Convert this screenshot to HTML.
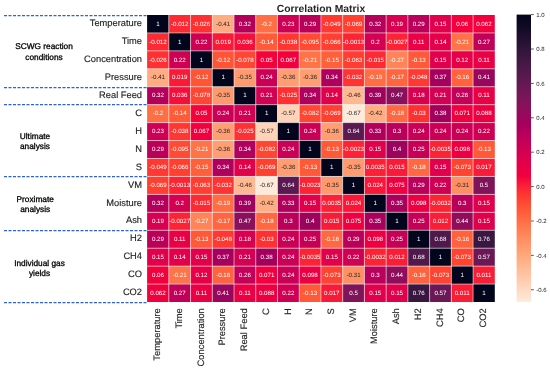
<!DOCTYPE html><html><head><meta charset="utf-8"><style>html,body{margin:0;padding:0;background:#fff;width:550px;height:369px;overflow:hidden;position:relative}svg text{font-family:"Liberation Sans",sans-serif}</style></head><body><svg width="550" height="369" viewBox="0 0 550 369" text-rendering="geometricPrecision" style="position:absolute;left:0;top:0;will-change:transform;filter:blur(0.35px)">
<rect x="147.10" y="15.00" width="21.73" height="17.94" fill="#02051b"/>
<rect x="168.83" y="15.00" width="21.73" height="17.94" fill="#fe2a33"/>
<rect x="190.56" y="15.00" width="21.73" height="17.94" fill="#ff3032"/>
<rect x="212.29" y="15.00" width="21.73" height="17.94" fill="#ffac82"/>
<rect x="234.03" y="15.00" width="21.73" height="17.94" fill="#b4005b"/>
<rect x="255.76" y="15.00" width="21.73" height="17.94" fill="#ff6f46"/>
<rect x="277.49" y="15.00" width="21.73" height="17.94" fill="#cd0055"/>
<rect x="299.22" y="15.00" width="21.73" height="17.94" fill="#bb005a"/>
<rect x="320.95" y="15.00" width="21.73" height="17.94" fill="#ff3831"/>
<rect x="342.68" y="15.00" width="21.73" height="17.94" fill="#ff4031"/>
<rect x="364.41" y="15.00" width="21.73" height="17.94" fill="#b4005b"/>
<rect x="386.14" y="15.00" width="21.73" height="17.94" fill="#d80050"/>
<rect x="407.88" y="15.00" width="21.73" height="17.94" fill="#bb005a"/>
<rect x="429.61" y="15.00" width="21.73" height="17.94" fill="#e1004b"/>
<rect x="451.34" y="15.00" width="21.73" height="17.94" fill="#f3003d"/>
<rect x="473.07" y="15.00" width="21.73" height="17.94" fill="#f2003e"/>
<rect x="147.10" y="32.94" width="21.73" height="17.94" fill="#fe2a33"/>
<rect x="168.83" y="32.94" width="21.73" height="17.94" fill="#02051b"/>
<rect x="190.56" y="32.94" width="21.73" height="17.94" fill="#cf0054"/>
<rect x="212.29" y="32.94" width="21.73" height="17.94" fill="#f91a37"/>
<rect x="234.03" y="32.94" width="21.73" height="17.94" fill="#f70d3a"/>
<rect x="255.76" y="32.94" width="21.73" height="17.94" fill="#ff5b39"/>
<rect x="277.49" y="32.94" width="21.73" height="17.94" fill="#ff3631"/>
<rect x="299.22" y="32.94" width="21.73" height="17.94" fill="#ff4b33"/>
<rect x="320.95" y="32.94" width="21.73" height="17.94" fill="#ff4031"/>
<rect x="342.68" y="32.94" width="21.73" height="17.94" fill="#fc2434"/>
<rect x="364.41" y="32.94" width="21.73" height="17.94" fill="#d40052"/>
<rect x="386.14" y="32.94" width="21.73" height="17.94" fill="#fc2434"/>
<rect x="407.88" y="32.94" width="21.73" height="17.94" fill="#e90045"/>
<rect x="429.61" y="32.94" width="21.73" height="17.94" fill="#e2004a"/>
<rect x="451.34" y="32.94" width="21.73" height="17.94" fill="#ff7349"/>
<rect x="473.07" y="32.94" width="21.73" height="17.94" fill="#c10059"/>
<rect x="147.10" y="50.88" width="21.73" height="17.94" fill="#ff3032"/>
<rect x="168.83" y="50.88" width="21.73" height="17.94" fill="#cf0054"/>
<rect x="190.56" y="50.88" width="21.73" height="17.94" fill="#02051b"/>
<rect x="212.29" y="50.88" width="21.73" height="17.94" fill="#ff5436"/>
<rect x="234.03" y="50.88" width="21.73" height="17.94" fill="#ff4632"/>
<rect x="255.76" y="50.88" width="21.73" height="17.94" fill="#f4023c"/>
<rect x="277.49" y="50.88" width="21.73" height="17.94" fill="#f2003e"/>
<rect x="299.22" y="50.88" width="21.73" height="17.94" fill="#ff7349"/>
<rect x="320.95" y="50.88" width="21.73" height="17.94" fill="#ff603c"/>
<rect x="342.68" y="50.88" width="21.73" height="17.94" fill="#ff3e31"/>
<rect x="364.41" y="50.88" width="21.73" height="17.94" fill="#fe2a33"/>
<rect x="386.14" y="50.88" width="21.73" height="17.94" fill="#ff8458"/>
<rect x="407.88" y="50.88" width="21.73" height="17.94" fill="#ff5938"/>
<rect x="429.61" y="50.88" width="21.73" height="17.94" fill="#e1004b"/>
<rect x="451.34" y="50.88" width="21.73" height="17.94" fill="#e70047"/>
<rect x="473.07" y="50.88" width="21.73" height="17.94" fill="#e90045"/>
<rect x="147.10" y="68.81" width="21.73" height="17.94" fill="#ffac82"/>
<rect x="168.83" y="68.81" width="21.73" height="17.94" fill="#f91a37"/>
<rect x="190.56" y="68.81" width="21.73" height="17.94" fill="#ff5436"/>
<rect x="212.29" y="68.81" width="21.73" height="17.94" fill="#02051b"/>
<rect x="234.03" y="68.81" width="21.73" height="17.94" fill="#ff9a6e"/>
<rect x="255.76" y="68.81" width="21.73" height="17.94" fill="#ca0056"/>
<rect x="277.49" y="68.81" width="21.73" height="17.94" fill="#ff9e72"/>
<rect x="299.22" y="68.81" width="21.73" height="17.94" fill="#ff9e72"/>
<rect x="320.95" y="68.81" width="21.73" height="17.94" fill="#ae005c"/>
<rect x="342.68" y="68.81" width="21.73" height="17.94" fill="#ff3331"/>
<rect x="364.41" y="68.81" width="21.73" height="17.94" fill="#ff6d44"/>
<rect x="386.14" y="68.81" width="21.73" height="17.94" fill="#ff6640"/>
<rect x="407.88" y="68.81" width="21.73" height="17.94" fill="#ff3831"/>
<rect x="429.61" y="68.81" width="21.73" height="17.94" fill="#a5005d"/>
<rect x="451.34" y="68.81" width="21.73" height="17.94" fill="#ff623d"/>
<rect x="473.07" y="68.81" width="21.73" height="17.94" fill="#99065d"/>
<rect x="147.10" y="86.75" width="21.73" height="17.94" fill="#b4005b"/>
<rect x="168.83" y="86.75" width="21.73" height="17.94" fill="#f70d3a"/>
<rect x="190.56" y="86.75" width="21.73" height="17.94" fill="#ff4632"/>
<rect x="212.29" y="86.75" width="21.73" height="17.94" fill="#ff9a6e"/>
<rect x="234.03" y="86.75" width="21.73" height="17.94" fill="#02051b"/>
<rect x="255.76" y="86.75" width="21.73" height="17.94" fill="#d30053"/>
<rect x="277.49" y="86.75" width="21.73" height="17.94" fill="#ff3032"/>
<rect x="299.22" y="86.75" width="21.73" height="17.94" fill="#ae005c"/>
<rect x="320.95" y="86.75" width="21.73" height="17.94" fill="#e2004a"/>
<rect x="342.68" y="86.75" width="21.73" height="17.94" fill="#ffb891"/>
<rect x="364.41" y="86.75" width="21.73" height="17.94" fill="#9f015d"/>
<rect x="386.14" y="86.75" width="21.73" height="17.94" fill="#89105c"/>
<rect x="407.88" y="86.75" width="21.73" height="17.94" fill="#d9004f"/>
<rect x="429.61" y="86.75" width="21.73" height="17.94" fill="#d30053"/>
<rect x="451.34" y="86.75" width="21.73" height="17.94" fill="#c40058"/>
<rect x="473.07" y="86.75" width="21.73" height="17.94" fill="#e90045"/>
<rect x="147.10" y="104.69" width="21.73" height="17.94" fill="#ff6f46"/>
<rect x="168.83" y="104.69" width="21.73" height="17.94" fill="#ff5b39"/>
<rect x="190.56" y="104.69" width="21.73" height="17.94" fill="#f4023c"/>
<rect x="212.29" y="104.69" width="21.73" height="17.94" fill="#ca0056"/>
<rect x="234.03" y="104.69" width="21.73" height="17.94" fill="#d30053"/>
<rect x="255.76" y="104.69" width="21.73" height="17.94" fill="#02051b"/>
<rect x="277.49" y="104.69" width="21.73" height="17.94" fill="#ffd3b8"/>
<rect x="299.22" y="104.69" width="21.73" height="17.94" fill="#ff4632"/>
<rect x="320.95" y="104.69" width="21.73" height="17.94" fill="#ff4031"/>
<rect x="342.68" y="104.69" width="21.73" height="17.94" fill="#feeadb"/>
<rect x="364.41" y="104.69" width="21.73" height="17.94" fill="#ffae84"/>
<rect x="386.14" y="104.69" width="21.73" height="17.94" fill="#ff6841"/>
<rect x="407.88" y="104.69" width="21.73" height="17.94" fill="#ff3032"/>
<rect x="429.61" y="104.69" width="21.73" height="17.94" fill="#a3005d"/>
<rect x="451.34" y="104.69" width="21.73" height="17.94" fill="#f1003f"/>
<rect x="473.07" y="104.69" width="21.73" height="17.94" fill="#ed0042"/>
<rect x="147.10" y="122.62" width="21.73" height="17.94" fill="#cd0055"/>
<rect x="168.83" y="122.62" width="21.73" height="17.94" fill="#ff3631"/>
<rect x="190.56" y="122.62" width="21.73" height="17.94" fill="#f2003e"/>
<rect x="212.29" y="122.62" width="21.73" height="17.94" fill="#ff9e72"/>
<rect x="234.03" y="122.62" width="21.73" height="17.94" fill="#ff3032"/>
<rect x="255.76" y="122.62" width="21.73" height="17.94" fill="#ffd3b8"/>
<rect x="277.49" y="122.62" width="21.73" height="17.94" fill="#02051b"/>
<rect x="299.22" y="122.62" width="21.73" height="17.94" fill="#ca0056"/>
<rect x="320.95" y="122.62" width="21.73" height="17.94" fill="#ff9e72"/>
<rect x="342.68" y="122.62" width="21.73" height="17.94" fill="#5a1950"/>
<rect x="364.41" y="122.62" width="21.73" height="17.94" fill="#b0005c"/>
<rect x="386.14" y="122.62" width="21.73" height="17.94" fill="#b9005b"/>
<rect x="407.88" y="122.62" width="21.73" height="17.94" fill="#ca0056"/>
<rect x="429.61" y="122.62" width="21.73" height="17.94" fill="#ca0056"/>
<rect x="451.34" y="122.62" width="21.73" height="17.94" fill="#ca0056"/>
<rect x="473.07" y="122.62" width="21.73" height="17.94" fill="#cf0054"/>
<rect x="147.10" y="140.56" width="21.73" height="17.94" fill="#bb005a"/>
<rect x="168.83" y="140.56" width="21.73" height="17.94" fill="#ff4b33"/>
<rect x="190.56" y="140.56" width="21.73" height="17.94" fill="#ff7349"/>
<rect x="212.29" y="140.56" width="21.73" height="17.94" fill="#ff9e72"/>
<rect x="234.03" y="140.56" width="21.73" height="17.94" fill="#ae005c"/>
<rect x="255.76" y="140.56" width="21.73" height="17.94" fill="#ff4632"/>
<rect x="277.49" y="140.56" width="21.73" height="17.94" fill="#ca0056"/>
<rect x="299.22" y="140.56" width="21.73" height="17.94" fill="#02051b"/>
<rect x="320.95" y="140.56" width="21.73" height="17.94" fill="#ff5938"/>
<rect x="342.68" y="140.56" width="21.73" height="17.94" fill="#fc2434"/>
<rect x="364.41" y="140.56" width="21.73" height="17.94" fill="#e1004b"/>
<rect x="386.14" y="140.56" width="21.73" height="17.94" fill="#9b045d"/>
<rect x="407.88" y="140.56" width="21.73" height="17.94" fill="#c60057"/>
<rect x="429.61" y="140.56" width="21.73" height="17.94" fill="#fc2434"/>
<rect x="451.34" y="140.56" width="21.73" height="17.94" fill="#ec0043"/>
<rect x="473.07" y="140.56" width="21.73" height="17.94" fill="#ff5938"/>
<rect x="147.10" y="158.50" width="21.73" height="17.94" fill="#ff3831"/>
<rect x="168.83" y="158.50" width="21.73" height="17.94" fill="#ff4031"/>
<rect x="190.56" y="158.50" width="21.73" height="17.94" fill="#ff603c"/>
<rect x="212.29" y="158.50" width="21.73" height="17.94" fill="#ae005c"/>
<rect x="234.03" y="158.50" width="21.73" height="17.94" fill="#e2004a"/>
<rect x="255.76" y="158.50" width="21.73" height="17.94" fill="#ff4031"/>
<rect x="277.49" y="158.50" width="21.73" height="17.94" fill="#ff9e72"/>
<rect x="299.22" y="158.50" width="21.73" height="17.94" fill="#ff5938"/>
<rect x="320.95" y="158.50" width="21.73" height="17.94" fill="#02051b"/>
<rect x="342.68" y="158.50" width="21.73" height="17.94" fill="#ff9a6e"/>
<rect x="364.41" y="158.50" width="21.73" height="17.94" fill="#fb2035"/>
<rect x="386.14" y="158.50" width="21.73" height="17.94" fill="#f91a37"/>
<rect x="407.88" y="158.50" width="21.73" height="17.94" fill="#ff6841"/>
<rect x="429.61" y="158.50" width="21.73" height="17.94" fill="#e1004b"/>
<rect x="451.34" y="158.50" width="21.73" height="17.94" fill="#ff4331"/>
<rect x="473.07" y="158.50" width="21.73" height="17.94" fill="#f91a37"/>
<rect x="147.10" y="176.44" width="21.73" height="17.94" fill="#ff4031"/>
<rect x="168.83" y="176.44" width="21.73" height="17.94" fill="#fc2434"/>
<rect x="190.56" y="176.44" width="21.73" height="17.94" fill="#ff3e31"/>
<rect x="212.29" y="176.44" width="21.73" height="17.94" fill="#ff3331"/>
<rect x="234.03" y="176.44" width="21.73" height="17.94" fill="#ffb891"/>
<rect x="255.76" y="176.44" width="21.73" height="17.94" fill="#feeadb"/>
<rect x="277.49" y="176.44" width="21.73" height="17.94" fill="#5a1950"/>
<rect x="299.22" y="176.44" width="21.73" height="17.94" fill="#fc2434"/>
<rect x="320.95" y="176.44" width="21.73" height="17.94" fill="#ff9a6e"/>
<rect x="342.68" y="176.44" width="21.73" height="17.94" fill="#02051b"/>
<rect x="364.41" y="176.44" width="21.73" height="17.94" fill="#f91638"/>
<rect x="386.14" y="176.44" width="21.73" height="17.94" fill="#f00040"/>
<rect x="407.88" y="176.44" width="21.73" height="17.94" fill="#bb005a"/>
<rect x="429.61" y="176.44" width="21.73" height="17.94" fill="#cf0054"/>
<rect x="451.34" y="176.44" width="21.73" height="17.94" fill="#ff9063"/>
<rect x="473.07" y="176.44" width="21.73" height="17.94" fill="#80145a"/>
<rect x="147.10" y="194.38" width="21.73" height="17.94" fill="#b4005b"/>
<rect x="168.83" y="194.38" width="21.73" height="17.94" fill="#d40052"/>
<rect x="190.56" y="194.38" width="21.73" height="17.94" fill="#fe2a33"/>
<rect x="212.29" y="194.38" width="21.73" height="17.94" fill="#ff6d44"/>
<rect x="234.03" y="194.38" width="21.73" height="17.94" fill="#9f015d"/>
<rect x="255.76" y="194.38" width="21.73" height="17.94" fill="#ffae84"/>
<rect x="277.49" y="194.38" width="21.73" height="17.94" fill="#b0005c"/>
<rect x="299.22" y="194.38" width="21.73" height="17.94" fill="#e1004b"/>
<rect x="320.95" y="194.38" width="21.73" height="17.94" fill="#fb2035"/>
<rect x="342.68" y="194.38" width="21.73" height="17.94" fill="#f91638"/>
<rect x="364.41" y="194.38" width="21.73" height="17.94" fill="#02051b"/>
<rect x="386.14" y="194.38" width="21.73" height="17.94" fill="#aa005d"/>
<rect x="407.88" y="194.38" width="21.73" height="17.94" fill="#ec0043"/>
<rect x="429.61" y="194.38" width="21.73" height="17.94" fill="#fc2434"/>
<rect x="451.34" y="194.38" width="21.73" height="17.94" fill="#b9005b"/>
<rect x="473.07" y="194.38" width="21.73" height="17.94" fill="#e1004b"/>
<rect x="147.10" y="212.31" width="21.73" height="17.94" fill="#d80050"/>
<rect x="168.83" y="212.31" width="21.73" height="17.94" fill="#fc2434"/>
<rect x="190.56" y="212.31" width="21.73" height="17.94" fill="#ff8458"/>
<rect x="212.29" y="212.31" width="21.73" height="17.94" fill="#ff6640"/>
<rect x="234.03" y="212.31" width="21.73" height="17.94" fill="#89105c"/>
<rect x="255.76" y="212.31" width="21.73" height="17.94" fill="#ff6841"/>
<rect x="277.49" y="212.31" width="21.73" height="17.94" fill="#b9005b"/>
<rect x="299.22" y="212.31" width="21.73" height="17.94" fill="#9b045d"/>
<rect x="320.95" y="212.31" width="21.73" height="17.94" fill="#f91a37"/>
<rect x="342.68" y="212.31" width="21.73" height="17.94" fill="#f00040"/>
<rect x="364.41" y="212.31" width="21.73" height="17.94" fill="#aa005d"/>
<rect x="386.14" y="212.31" width="21.73" height="17.94" fill="#02051b"/>
<rect x="407.88" y="212.31" width="21.73" height="17.94" fill="#c60057"/>
<rect x="429.61" y="212.31" width="21.73" height="17.94" fill="#fa1d36"/>
<rect x="451.34" y="212.31" width="21.73" height="17.94" fill="#900d5c"/>
<rect x="473.07" y="212.31" width="21.73" height="17.94" fill="#e1004b"/>
<rect x="147.10" y="230.25" width="21.73" height="17.94" fill="#bb005a"/>
<rect x="168.83" y="230.25" width="21.73" height="17.94" fill="#e90045"/>
<rect x="190.56" y="230.25" width="21.73" height="17.94" fill="#ff5938"/>
<rect x="212.29" y="230.25" width="21.73" height="17.94" fill="#ff3831"/>
<rect x="234.03" y="230.25" width="21.73" height="17.94" fill="#d9004f"/>
<rect x="255.76" y="230.25" width="21.73" height="17.94" fill="#ff3032"/>
<rect x="277.49" y="230.25" width="21.73" height="17.94" fill="#ca0056"/>
<rect x="299.22" y="230.25" width="21.73" height="17.94" fill="#c60057"/>
<rect x="320.95" y="230.25" width="21.73" height="17.94" fill="#ff6841"/>
<rect x="342.68" y="230.25" width="21.73" height="17.94" fill="#bb005a"/>
<rect x="364.41" y="230.25" width="21.73" height="17.94" fill="#ec0043"/>
<rect x="386.14" y="230.25" width="21.73" height="17.94" fill="#c60057"/>
<rect x="407.88" y="230.25" width="21.73" height="17.94" fill="#02051b"/>
<rect x="429.61" y="230.25" width="21.73" height="17.94" fill="#50194b"/>
<rect x="451.34" y="230.25" width="21.73" height="17.94" fill="#ff623d"/>
<rect x="473.07" y="230.25" width="21.73" height="17.94" fill="#3a1740"/>
<rect x="147.10" y="248.19" width="21.73" height="17.94" fill="#e1004b"/>
<rect x="168.83" y="248.19" width="21.73" height="17.94" fill="#e2004a"/>
<rect x="190.56" y="248.19" width="21.73" height="17.94" fill="#e1004b"/>
<rect x="212.29" y="248.19" width="21.73" height="17.94" fill="#a5005d"/>
<rect x="234.03" y="248.19" width="21.73" height="17.94" fill="#d30053"/>
<rect x="255.76" y="248.19" width="21.73" height="17.94" fill="#a3005d"/>
<rect x="277.49" y="248.19" width="21.73" height="17.94" fill="#ca0056"/>
<rect x="299.22" y="248.19" width="21.73" height="17.94" fill="#fc2434"/>
<rect x="320.95" y="248.19" width="21.73" height="17.94" fill="#e1004b"/>
<rect x="342.68" y="248.19" width="21.73" height="17.94" fill="#cf0054"/>
<rect x="364.41" y="248.19" width="21.73" height="17.94" fill="#fc2434"/>
<rect x="386.14" y="248.19" width="21.73" height="17.94" fill="#fa1d36"/>
<rect x="407.88" y="248.19" width="21.73" height="17.94" fill="#50194b"/>
<rect x="429.61" y="248.19" width="21.73" height="17.94" fill="#02051b"/>
<rect x="451.34" y="248.19" width="21.73" height="17.94" fill="#ff4331"/>
<rect x="473.07" y="248.19" width="21.73" height="17.94" fill="#6c1856"/>
<rect x="147.10" y="266.12" width="21.73" height="17.94" fill="#f3003d"/>
<rect x="168.83" y="266.12" width="21.73" height="17.94" fill="#ff7349"/>
<rect x="190.56" y="266.12" width="21.73" height="17.94" fill="#e70047"/>
<rect x="212.29" y="266.12" width="21.73" height="17.94" fill="#ff623d"/>
<rect x="234.03" y="266.12" width="21.73" height="17.94" fill="#c40058"/>
<rect x="255.76" y="266.12" width="21.73" height="17.94" fill="#f1003f"/>
<rect x="277.49" y="266.12" width="21.73" height="17.94" fill="#ca0056"/>
<rect x="299.22" y="266.12" width="21.73" height="17.94" fill="#ec0043"/>
<rect x="320.95" y="266.12" width="21.73" height="17.94" fill="#ff4331"/>
<rect x="342.68" y="266.12" width="21.73" height="17.94" fill="#ff9063"/>
<rect x="364.41" y="266.12" width="21.73" height="17.94" fill="#b9005b"/>
<rect x="386.14" y="266.12" width="21.73" height="17.94" fill="#900d5c"/>
<rect x="407.88" y="266.12" width="21.73" height="17.94" fill="#ff623d"/>
<rect x="429.61" y="266.12" width="21.73" height="17.94" fill="#ff4331"/>
<rect x="451.34" y="266.12" width="21.73" height="17.94" fill="#02051b"/>
<rect x="473.07" y="266.12" width="21.73" height="17.94" fill="#fa1d36"/>
<rect x="147.10" y="284.06" width="21.73" height="17.94" fill="#f2003e"/>
<rect x="168.83" y="284.06" width="21.73" height="17.94" fill="#c10059"/>
<rect x="190.56" y="284.06" width="21.73" height="17.94" fill="#e90045"/>
<rect x="212.29" y="284.06" width="21.73" height="17.94" fill="#99065d"/>
<rect x="234.03" y="284.06" width="21.73" height="17.94" fill="#e90045"/>
<rect x="255.76" y="284.06" width="21.73" height="17.94" fill="#ed0042"/>
<rect x="277.49" y="284.06" width="21.73" height="17.94" fill="#cf0054"/>
<rect x="299.22" y="284.06" width="21.73" height="17.94" fill="#ff5938"/>
<rect x="320.95" y="284.06" width="21.73" height="17.94" fill="#f91a37"/>
<rect x="342.68" y="284.06" width="21.73" height="17.94" fill="#80145a"/>
<rect x="364.41" y="284.06" width="21.73" height="17.94" fill="#e1004b"/>
<rect x="386.14" y="284.06" width="21.73" height="17.94" fill="#e1004b"/>
<rect x="407.88" y="284.06" width="21.73" height="17.94" fill="#3a1740"/>
<rect x="429.61" y="284.06" width="21.73" height="17.94" fill="#6c1856"/>
<rect x="451.34" y="284.06" width="21.73" height="17.94" fill="#fa1d36"/>
<rect x="473.07" y="284.06" width="21.73" height="17.94" fill="#02051b"/>
<line x1="168.83" y1="15.0" x2="168.83" y2="302.0" stroke="#fff" stroke-opacity="0.6" stroke-width="0.9"/>
<line x1="190.56" y1="15.0" x2="190.56" y2="302.0" stroke="#fff" stroke-opacity="0.6" stroke-width="0.9"/>
<line x1="212.29" y1="15.0" x2="212.29" y2="302.0" stroke="#fff" stroke-opacity="0.6" stroke-width="0.9"/>
<line x1="234.03" y1="15.0" x2="234.03" y2="302.0" stroke="#fff" stroke-opacity="0.6" stroke-width="0.9"/>
<line x1="255.76" y1="15.0" x2="255.76" y2="302.0" stroke="#fff" stroke-opacity="0.6" stroke-width="0.9"/>
<line x1="277.49" y1="15.0" x2="277.49" y2="302.0" stroke="#fff" stroke-opacity="0.6" stroke-width="0.9"/>
<line x1="299.22" y1="15.0" x2="299.22" y2="302.0" stroke="#fff" stroke-opacity="0.6" stroke-width="0.9"/>
<line x1="320.95" y1="15.0" x2="320.95" y2="302.0" stroke="#fff" stroke-opacity="0.6" stroke-width="0.9"/>
<line x1="342.68" y1="15.0" x2="342.68" y2="302.0" stroke="#fff" stroke-opacity="0.6" stroke-width="0.9"/>
<line x1="364.41" y1="15.0" x2="364.41" y2="302.0" stroke="#fff" stroke-opacity="0.6" stroke-width="0.9"/>
<line x1="386.14" y1="15.0" x2="386.14" y2="302.0" stroke="#fff" stroke-opacity="0.6" stroke-width="0.9"/>
<line x1="407.88" y1="15.0" x2="407.88" y2="302.0" stroke="#fff" stroke-opacity="0.6" stroke-width="0.9"/>
<line x1="429.61" y1="15.0" x2="429.61" y2="302.0" stroke="#fff" stroke-opacity="0.6" stroke-width="0.9"/>
<line x1="451.34" y1="15.0" x2="451.34" y2="302.0" stroke="#fff" stroke-opacity="0.6" stroke-width="0.9"/>
<line x1="473.07" y1="15.0" x2="473.07" y2="302.0" stroke="#fff" stroke-opacity="0.6" stroke-width="0.9"/>
<line x1="147.1" y1="32.94" x2="494.8" y2="32.94" stroke="#fff" stroke-opacity="0.6" stroke-width="0.9"/>
<line x1="147.1" y1="50.88" x2="494.8" y2="50.88" stroke="#fff" stroke-opacity="0.6" stroke-width="0.9"/>
<line x1="147.1" y1="68.81" x2="494.8" y2="68.81" stroke="#fff" stroke-opacity="0.6" stroke-width="0.9"/>
<line x1="147.1" y1="86.75" x2="494.8" y2="86.75" stroke="#fff" stroke-opacity="0.6" stroke-width="0.9"/>
<line x1="147.1" y1="104.69" x2="494.8" y2="104.69" stroke="#fff" stroke-opacity="0.6" stroke-width="0.9"/>
<line x1="147.1" y1="122.62" x2="494.8" y2="122.62" stroke="#fff" stroke-opacity="0.6" stroke-width="0.9"/>
<line x1="147.1" y1="140.56" x2="494.8" y2="140.56" stroke="#fff" stroke-opacity="0.6" stroke-width="0.9"/>
<line x1="147.1" y1="158.50" x2="494.8" y2="158.50" stroke="#fff" stroke-opacity="0.6" stroke-width="0.9"/>
<line x1="147.1" y1="176.44" x2="494.8" y2="176.44" stroke="#fff" stroke-opacity="0.6" stroke-width="0.9"/>
<line x1="147.1" y1="194.38" x2="494.8" y2="194.38" stroke="#fff" stroke-opacity="0.6" stroke-width="0.9"/>
<line x1="147.1" y1="212.31" x2="494.8" y2="212.31" stroke="#fff" stroke-opacity="0.6" stroke-width="0.9"/>
<line x1="147.1" y1="230.25" x2="494.8" y2="230.25" stroke="#fff" stroke-opacity="0.6" stroke-width="0.9"/>
<line x1="147.1" y1="248.19" x2="494.8" y2="248.19" stroke="#fff" stroke-opacity="0.6" stroke-width="0.9"/>
<line x1="147.1" y1="266.12" x2="494.8" y2="266.12" stroke="#fff" stroke-opacity="0.6" stroke-width="0.9"/>
<line x1="147.1" y1="284.06" x2="494.8" y2="284.06" stroke="#fff" stroke-opacity="0.6" stroke-width="0.9"/>
<g font-family="Liberation Sans, sans-serif" font-size="6.2" text-anchor="middle">
<text x="157.97" y="25.67" fill="#ffffff">1</text>
<text x="179.70" y="25.67" fill="#ffffff">-0.012</text>
<text x="201.43" y="25.67" fill="#ffffff">-0.026</text>
<text x="223.16" y="25.67" fill="#262626">-0.41</text>
<text x="244.89" y="25.67" fill="#ffffff">0.32</text>
<text x="266.62" y="25.67" fill="#ffffff">-0.2</text>
<text x="288.35" y="25.67" fill="#ffffff">0.23</text>
<text x="310.08" y="25.67" fill="#ffffff">0.29</text>
<text x="331.82" y="25.67" fill="#ffffff">-0.049</text>
<text x="353.55" y="25.67" fill="#ffffff">-0.069</text>
<text x="375.28" y="25.67" fill="#ffffff">0.32</text>
<text x="397.01" y="25.67" fill="#ffffff">0.19</text>
<text x="418.74" y="25.67" fill="#ffffff">0.29</text>
<text x="440.47" y="25.67" fill="#ffffff">0.15</text>
<text x="462.20" y="25.67" fill="#ffffff">0.06</text>
<text x="483.93" y="25.67" fill="#ffffff">0.062</text>
<text x="157.97" y="43.61" fill="#ffffff">-0.012</text>
<text x="179.70" y="43.61" fill="#ffffff">1</text>
<text x="201.43" y="43.61" fill="#ffffff">0.22</text>
<text x="223.16" y="43.61" fill="#ffffff">0.019</text>
<text x="244.89" y="43.61" fill="#ffffff">0.036</text>
<text x="266.62" y="43.61" fill="#ffffff">-0.14</text>
<text x="288.35" y="43.61" fill="#ffffff">-0.038</text>
<text x="310.08" y="43.61" fill="#ffffff">-0.095</text>
<text x="331.82" y="43.61" fill="#ffffff">-0.066</text>
<text x="353.55" y="43.61" fill="#ffffff">-0.0013</text>
<text x="375.28" y="43.61" fill="#ffffff">0.2</text>
<text x="397.01" y="43.61" fill="#ffffff">-0.0027</text>
<text x="418.74" y="43.61" fill="#ffffff">0.11</text>
<text x="440.47" y="43.61" fill="#ffffff">0.14</text>
<text x="462.20" y="43.61" fill="#ffffff">-0.21</text>
<text x="483.93" y="43.61" fill="#ffffff">0.27</text>
<text x="157.97" y="61.54" fill="#ffffff">-0.026</text>
<text x="179.70" y="61.54" fill="#ffffff">0.22</text>
<text x="201.43" y="61.54" fill="#ffffff">1</text>
<text x="223.16" y="61.54" fill="#ffffff">-0.12</text>
<text x="244.89" y="61.54" fill="#ffffff">-0.078</text>
<text x="266.62" y="61.54" fill="#ffffff">0.05</text>
<text x="288.35" y="61.54" fill="#ffffff">0.067</text>
<text x="310.08" y="61.54" fill="#ffffff">-0.21</text>
<text x="331.82" y="61.54" fill="#ffffff">-0.15</text>
<text x="353.55" y="61.54" fill="#ffffff">-0.063</text>
<text x="375.28" y="61.54" fill="#ffffff">-0.015</text>
<text x="397.01" y="61.54" fill="#ffffff">-0.27</text>
<text x="418.74" y="61.54" fill="#ffffff">-0.13</text>
<text x="440.47" y="61.54" fill="#ffffff">0.15</text>
<text x="462.20" y="61.54" fill="#ffffff">0.12</text>
<text x="483.93" y="61.54" fill="#ffffff">0.11</text>
<text x="157.97" y="79.48" fill="#262626">-0.41</text>
<text x="179.70" y="79.48" fill="#ffffff">0.019</text>
<text x="201.43" y="79.48" fill="#ffffff">-0.12</text>
<text x="223.16" y="79.48" fill="#ffffff">1</text>
<text x="244.89" y="79.48" fill="#262626">-0.35</text>
<text x="266.62" y="79.48" fill="#ffffff">0.24</text>
<text x="288.35" y="79.48" fill="#262626">-0.36</text>
<text x="310.08" y="79.48" fill="#262626">-0.36</text>
<text x="331.82" y="79.48" fill="#ffffff">0.34</text>
<text x="353.55" y="79.48" fill="#ffffff">-0.032</text>
<text x="375.28" y="79.48" fill="#ffffff">-0.19</text>
<text x="397.01" y="79.48" fill="#ffffff">-0.17</text>
<text x="418.74" y="79.48" fill="#ffffff">-0.048</text>
<text x="440.47" y="79.48" fill="#ffffff">0.37</text>
<text x="462.20" y="79.48" fill="#ffffff">-0.16</text>
<text x="483.93" y="79.48" fill="#ffffff">0.41</text>
<text x="157.97" y="97.42" fill="#ffffff">0.32</text>
<text x="179.70" y="97.42" fill="#ffffff">0.036</text>
<text x="201.43" y="97.42" fill="#ffffff">-0.078</text>
<text x="223.16" y="97.42" fill="#262626">-0.35</text>
<text x="244.89" y="97.42" fill="#ffffff">1</text>
<text x="266.62" y="97.42" fill="#ffffff">0.21</text>
<text x="288.35" y="97.42" fill="#ffffff">-0.025</text>
<text x="310.08" y="97.42" fill="#ffffff">0.34</text>
<text x="331.82" y="97.42" fill="#ffffff">0.14</text>
<text x="353.55" y="97.42" fill="#262626">-0.46</text>
<text x="375.28" y="97.42" fill="#ffffff">0.39</text>
<text x="397.01" y="97.42" fill="#ffffff">0.47</text>
<text x="418.74" y="97.42" fill="#ffffff">0.18</text>
<text x="440.47" y="97.42" fill="#ffffff">0.21</text>
<text x="462.20" y="97.42" fill="#ffffff">0.26</text>
<text x="483.93" y="97.42" fill="#ffffff">0.11</text>
<text x="157.97" y="115.36" fill="#ffffff">-0.2</text>
<text x="179.70" y="115.36" fill="#ffffff">-0.14</text>
<text x="201.43" y="115.36" fill="#ffffff">0.05</text>
<text x="223.16" y="115.36" fill="#ffffff">0.24</text>
<text x="244.89" y="115.36" fill="#ffffff">0.21</text>
<text x="266.62" y="115.36" fill="#ffffff">1</text>
<text x="288.35" y="115.36" fill="#262626">-0.57</text>
<text x="310.08" y="115.36" fill="#ffffff">-0.082</text>
<text x="331.82" y="115.36" fill="#ffffff">-0.069</text>
<text x="353.55" y="115.36" fill="#262626">-0.67</text>
<text x="375.28" y="115.36" fill="#262626">-0.42</text>
<text x="397.01" y="115.36" fill="#ffffff">-0.18</text>
<text x="418.74" y="115.36" fill="#ffffff">-0.03</text>
<text x="440.47" y="115.36" fill="#ffffff">0.38</text>
<text x="462.20" y="115.36" fill="#ffffff">0.071</text>
<text x="483.93" y="115.36" fill="#ffffff">0.088</text>
<text x="157.97" y="133.29" fill="#ffffff">0.23</text>
<text x="179.70" y="133.29" fill="#ffffff">-0.038</text>
<text x="201.43" y="133.29" fill="#ffffff">0.067</text>
<text x="223.16" y="133.29" fill="#262626">-0.36</text>
<text x="244.89" y="133.29" fill="#ffffff">-0.025</text>
<text x="266.62" y="133.29" fill="#262626">-0.57</text>
<text x="288.35" y="133.29" fill="#ffffff">1</text>
<text x="310.08" y="133.29" fill="#ffffff">0.24</text>
<text x="331.82" y="133.29" fill="#262626">-0.36</text>
<text x="353.55" y="133.29" fill="#ffffff">0.64</text>
<text x="375.28" y="133.29" fill="#ffffff">0.33</text>
<text x="397.01" y="133.29" fill="#ffffff">0.3</text>
<text x="418.74" y="133.29" fill="#ffffff">0.24</text>
<text x="440.47" y="133.29" fill="#ffffff">0.24</text>
<text x="462.20" y="133.29" fill="#ffffff">0.24</text>
<text x="483.93" y="133.29" fill="#ffffff">0.22</text>
<text x="157.97" y="151.23" fill="#ffffff">0.29</text>
<text x="179.70" y="151.23" fill="#ffffff">-0.095</text>
<text x="201.43" y="151.23" fill="#ffffff">-0.21</text>
<text x="223.16" y="151.23" fill="#262626">-0.36</text>
<text x="244.89" y="151.23" fill="#ffffff">0.34</text>
<text x="266.62" y="151.23" fill="#ffffff">-0.082</text>
<text x="288.35" y="151.23" fill="#ffffff">0.24</text>
<text x="310.08" y="151.23" fill="#ffffff">1</text>
<text x="331.82" y="151.23" fill="#ffffff">-0.13</text>
<text x="353.55" y="151.23" fill="#ffffff">-0.0023</text>
<text x="375.28" y="151.23" fill="#ffffff">0.15</text>
<text x="397.01" y="151.23" fill="#ffffff">0.4</text>
<text x="418.74" y="151.23" fill="#ffffff">0.25</text>
<text x="440.47" y="151.23" fill="#ffffff">-0.0035</text>
<text x="462.20" y="151.23" fill="#ffffff">0.098</text>
<text x="483.93" y="151.23" fill="#ffffff">-0.13</text>
<text x="157.97" y="169.17" fill="#ffffff">-0.049</text>
<text x="179.70" y="169.17" fill="#ffffff">-0.066</text>
<text x="201.43" y="169.17" fill="#ffffff">-0.15</text>
<text x="223.16" y="169.17" fill="#ffffff">0.34</text>
<text x="244.89" y="169.17" fill="#ffffff">0.14</text>
<text x="266.62" y="169.17" fill="#ffffff">-0.069</text>
<text x="288.35" y="169.17" fill="#262626">-0.36</text>
<text x="310.08" y="169.17" fill="#ffffff">-0.13</text>
<text x="331.82" y="169.17" fill="#ffffff">1</text>
<text x="353.55" y="169.17" fill="#262626">-0.35</text>
<text x="375.28" y="169.17" fill="#ffffff">0.0035</text>
<text x="397.01" y="169.17" fill="#ffffff">0.015</text>
<text x="418.74" y="169.17" fill="#ffffff">-0.18</text>
<text x="440.47" y="169.17" fill="#ffffff">0.15</text>
<text x="462.20" y="169.17" fill="#ffffff">-0.073</text>
<text x="483.93" y="169.17" fill="#ffffff">0.017</text>
<text x="157.97" y="187.11" fill="#ffffff">-0.069</text>
<text x="179.70" y="187.11" fill="#ffffff">-0.0013</text>
<text x="201.43" y="187.11" fill="#ffffff">-0.063</text>
<text x="223.16" y="187.11" fill="#ffffff">-0.032</text>
<text x="244.89" y="187.11" fill="#262626">-0.46</text>
<text x="266.62" y="187.11" fill="#262626">-0.67</text>
<text x="288.35" y="187.11" fill="#ffffff">0.64</text>
<text x="310.08" y="187.11" fill="#ffffff">-0.0023</text>
<text x="331.82" y="187.11" fill="#262626">-0.35</text>
<text x="353.55" y="187.11" fill="#ffffff">1</text>
<text x="375.28" y="187.11" fill="#ffffff">0.024</text>
<text x="397.01" y="187.11" fill="#ffffff">0.075</text>
<text x="418.74" y="187.11" fill="#ffffff">0.29</text>
<text x="440.47" y="187.11" fill="#ffffff">0.22</text>
<text x="462.20" y="187.11" fill="#262626">-0.31</text>
<text x="483.93" y="187.11" fill="#ffffff">0.5</text>
<text x="157.97" y="205.04" fill="#ffffff">0.32</text>
<text x="179.70" y="205.04" fill="#ffffff">0.2</text>
<text x="201.43" y="205.04" fill="#ffffff">-0.015</text>
<text x="223.16" y="205.04" fill="#ffffff">-0.19</text>
<text x="244.89" y="205.04" fill="#ffffff">0.39</text>
<text x="266.62" y="205.04" fill="#262626">-0.42</text>
<text x="288.35" y="205.04" fill="#ffffff">0.33</text>
<text x="310.08" y="205.04" fill="#ffffff">0.15</text>
<text x="331.82" y="205.04" fill="#ffffff">0.0035</text>
<text x="353.55" y="205.04" fill="#ffffff">0.024</text>
<text x="375.28" y="205.04" fill="#ffffff">1</text>
<text x="397.01" y="205.04" fill="#ffffff">0.35</text>
<text x="418.74" y="205.04" fill="#ffffff">0.098</text>
<text x="440.47" y="205.04" fill="#ffffff">-0.0032</text>
<text x="462.20" y="205.04" fill="#ffffff">0.3</text>
<text x="483.93" y="205.04" fill="#ffffff">0.15</text>
<text x="157.97" y="222.98" fill="#ffffff">0.19</text>
<text x="179.70" y="222.98" fill="#ffffff">-0.0027</text>
<text x="201.43" y="222.98" fill="#ffffff">-0.27</text>
<text x="223.16" y="222.98" fill="#ffffff">-0.17</text>
<text x="244.89" y="222.98" fill="#ffffff">0.47</text>
<text x="266.62" y="222.98" fill="#ffffff">-0.18</text>
<text x="288.35" y="222.98" fill="#ffffff">0.3</text>
<text x="310.08" y="222.98" fill="#ffffff">0.4</text>
<text x="331.82" y="222.98" fill="#ffffff">0.015</text>
<text x="353.55" y="222.98" fill="#ffffff">0.075</text>
<text x="375.28" y="222.98" fill="#ffffff">0.35</text>
<text x="397.01" y="222.98" fill="#ffffff">1</text>
<text x="418.74" y="222.98" fill="#ffffff">0.25</text>
<text x="440.47" y="222.98" fill="#ffffff">0.012</text>
<text x="462.20" y="222.98" fill="#ffffff">0.44</text>
<text x="483.93" y="222.98" fill="#ffffff">0.15</text>
<text x="157.97" y="240.92" fill="#ffffff">0.29</text>
<text x="179.70" y="240.92" fill="#ffffff">0.11</text>
<text x="201.43" y="240.92" fill="#ffffff">-0.13</text>
<text x="223.16" y="240.92" fill="#ffffff">-0.048</text>
<text x="244.89" y="240.92" fill="#ffffff">0.18</text>
<text x="266.62" y="240.92" fill="#ffffff">-0.03</text>
<text x="288.35" y="240.92" fill="#ffffff">0.24</text>
<text x="310.08" y="240.92" fill="#ffffff">0.25</text>
<text x="331.82" y="240.92" fill="#ffffff">-0.18</text>
<text x="353.55" y="240.92" fill="#ffffff">0.29</text>
<text x="375.28" y="240.92" fill="#ffffff">0.098</text>
<text x="397.01" y="240.92" fill="#ffffff">0.25</text>
<text x="418.74" y="240.92" fill="#ffffff">1</text>
<text x="440.47" y="240.92" fill="#ffffff">0.68</text>
<text x="462.20" y="240.92" fill="#ffffff">-0.16</text>
<text x="483.93" y="240.92" fill="#ffffff">0.76</text>
<text x="157.97" y="258.86" fill="#ffffff">0.15</text>
<text x="179.70" y="258.86" fill="#ffffff">0.14</text>
<text x="201.43" y="258.86" fill="#ffffff">0.15</text>
<text x="223.16" y="258.86" fill="#ffffff">0.37</text>
<text x="244.89" y="258.86" fill="#ffffff">0.21</text>
<text x="266.62" y="258.86" fill="#ffffff">0.38</text>
<text x="288.35" y="258.86" fill="#ffffff">0.24</text>
<text x="310.08" y="258.86" fill="#ffffff">-0.0035</text>
<text x="331.82" y="258.86" fill="#ffffff">0.15</text>
<text x="353.55" y="258.86" fill="#ffffff">0.22</text>
<text x="375.28" y="258.86" fill="#ffffff">-0.0032</text>
<text x="397.01" y="258.86" fill="#ffffff">0.012</text>
<text x="418.74" y="258.86" fill="#ffffff">0.68</text>
<text x="440.47" y="258.86" fill="#ffffff">1</text>
<text x="462.20" y="258.86" fill="#ffffff">-0.073</text>
<text x="483.93" y="258.86" fill="#ffffff">0.57</text>
<text x="157.97" y="276.79" fill="#ffffff">0.06</text>
<text x="179.70" y="276.79" fill="#ffffff">-0.21</text>
<text x="201.43" y="276.79" fill="#ffffff">0.12</text>
<text x="223.16" y="276.79" fill="#ffffff">-0.16</text>
<text x="244.89" y="276.79" fill="#ffffff">0.26</text>
<text x="266.62" y="276.79" fill="#ffffff">0.071</text>
<text x="288.35" y="276.79" fill="#ffffff">0.24</text>
<text x="310.08" y="276.79" fill="#ffffff">0.098</text>
<text x="331.82" y="276.79" fill="#ffffff">-0.073</text>
<text x="353.55" y="276.79" fill="#262626">-0.31</text>
<text x="375.28" y="276.79" fill="#ffffff">0.3</text>
<text x="397.01" y="276.79" fill="#ffffff">0.44</text>
<text x="418.74" y="276.79" fill="#ffffff">-0.16</text>
<text x="440.47" y="276.79" fill="#ffffff">-0.073</text>
<text x="462.20" y="276.79" fill="#ffffff">1</text>
<text x="483.93" y="276.79" fill="#ffffff">0.011</text>
<text x="157.97" y="294.73" fill="#ffffff">0.062</text>
<text x="179.70" y="294.73" fill="#ffffff">0.27</text>
<text x="201.43" y="294.73" fill="#ffffff">0.11</text>
<text x="223.16" y="294.73" fill="#ffffff">0.41</text>
<text x="244.89" y="294.73" fill="#ffffff">0.11</text>
<text x="266.62" y="294.73" fill="#ffffff">0.088</text>
<text x="288.35" y="294.73" fill="#ffffff">0.22</text>
<text x="310.08" y="294.73" fill="#ffffff">-0.13</text>
<text x="331.82" y="294.73" fill="#ffffff">0.017</text>
<text x="353.55" y="294.73" fill="#ffffff">0.5</text>
<text x="375.28" y="294.73" fill="#ffffff">0.15</text>
<text x="397.01" y="294.73" fill="#ffffff">0.15</text>
<text x="418.74" y="294.73" fill="#ffffff">0.76</text>
<text x="440.47" y="294.73" fill="#ffffff">0.57</text>
<text x="462.20" y="294.73" fill="#ffffff">0.011</text>
<text x="483.93" y="294.73" fill="#ffffff">1</text>
</g>
<g font-family="Liberation Sans, sans-serif" font-size="9.3" fill="#262626" stroke="#262626" stroke-width="0.15" text-anchor="end">
<text x="142.0" y="26.17">Temperature</text>
<text x="142.0" y="44.11">Time</text>
<text x="142.0" y="62.04">Concentration</text>
<text x="142.0" y="79.98">Pressure</text>
<text x="142.0" y="97.92">Real Feed</text>
<text x="142.0" y="115.86">C</text>
<text x="142.0" y="133.79">H</text>
<text x="142.0" y="151.73">N</text>
<text x="142.0" y="169.67">S</text>
<text x="142.0" y="187.61">VM</text>
<text x="142.0" y="205.54">Moisture</text>
<text x="142.0" y="223.48">Ash</text>
<text x="142.0" y="241.42">H2</text>
<text x="142.0" y="259.36">CH4</text>
<text x="142.0" y="277.29">CO</text>
<text x="142.0" y="295.23">CO2</text>
</g>
<g font-family="Liberation Sans, sans-serif" font-size="9.3" fill="#262626" stroke="#262626" stroke-width="0.15" text-anchor="end">
<text transform="translate(160.17,308.2) rotate(-90)" x="0" y="0" font-size="9.35">Temperature</text>
<text transform="translate(181.90,308.2) rotate(-90)" x="0" y="0" font-size="9.35">Time</text>
<text transform="translate(203.63,308.2) rotate(-90)" x="0" y="0" font-size="9.35">Concentration</text>
<text transform="translate(225.36,308.2) rotate(-90)" x="0" y="0" font-size="9.35">Pressure</text>
<text transform="translate(247.09,308.2) rotate(-90)" x="0" y="0" font-size="9.35">Real Feed</text>
<text transform="translate(268.82,308.2) rotate(-90)" x="0" y="0" font-size="9.35">C</text>
<text transform="translate(290.55,308.2) rotate(-90)" x="0" y="0" font-size="9.35">H</text>
<text transform="translate(312.28,308.2) rotate(-90)" x="0" y="0" font-size="9.35">N</text>
<text transform="translate(334.02,308.2) rotate(-90)" x="0" y="0" font-size="9.35">S</text>
<text transform="translate(355.75,308.2) rotate(-90)" x="0" y="0" font-size="9.35">VM</text>
<text transform="translate(377.48,308.2) rotate(-90)" x="0" y="0" font-size="9.35">Moisture</text>
<text transform="translate(399.21,308.2) rotate(-90)" x="0" y="0" font-size="9.35">Ash</text>
<text transform="translate(420.94,308.2) rotate(-90)" x="0" y="0" font-size="9.35">H2</text>
<text transform="translate(442.67,308.2) rotate(-90)" x="0" y="0" font-size="9.35">CH4</text>
<text transform="translate(464.40,308.2) rotate(-90)" x="0" y="0" font-size="9.35">CO</text>
<text transform="translate(486.13,308.2) rotate(-90)" x="0" y="0" font-size="9.35">CO2</text>
</g>
<text x="320.95" y="11.6" font-family="Liberation Sans, sans-serif" font-weight="bold" font-size="10.35" fill="#262626" text-anchor="middle">Correlation Matrix</text>
<defs><linearGradient id="cb" x1="0" y1="0" x2="0" y2="1"><stop offset="0.0000" stop-color="#02051b"/><stop offset="0.0312" stop-color="#0c0922"/><stop offset="0.0625" stop-color="#180e2a"/><stop offset="0.0938" stop-color="#251232"/><stop offset="0.1250" stop-color="#32163b"/><stop offset="0.1562" stop-color="#3f1843"/><stop offset="0.1875" stop-color="#4c194a"/><stop offset="0.2188" stop-color="#5a1950"/><stop offset="0.2500" stop-color="#681855"/><stop offset="0.2812" stop-color="#761658"/><stop offset="0.3125" stop-color="#85125b"/><stop offset="0.3438" stop-color="#940a5d"/><stop offset="0.3750" stop-color="#a3005d"/><stop offset="0.4062" stop-color="#b2005c"/><stop offset="0.4375" stop-color="#c10059"/><stop offset="0.4688" stop-color="#cf0054"/><stop offset="0.5000" stop-color="#dc004e"/><stop offset="0.5312" stop-color="#e80046"/><stop offset="0.5625" stop-color="#f2003e"/><stop offset="0.5938" stop-color="#fa1d36"/><stop offset="0.6250" stop-color="#ff3631"/><stop offset="0.6562" stop-color="#ff4b33"/><stop offset="0.6875" stop-color="#ff5e3b"/><stop offset="0.7188" stop-color="#ff6f46"/><stop offset="0.7500" stop-color="#ff7f53"/><stop offset="0.7812" stop-color="#ff8e61"/><stop offset="0.8125" stop-color="#ff9c70"/><stop offset="0.8438" stop-color="#ffaa80"/><stop offset="0.8750" stop-color="#ffb891"/><stop offset="0.9062" stop-color="#ffc5a3"/><stop offset="0.9375" stop-color="#ffd1b6"/><stop offset="0.9688" stop-color="#fedec9"/><stop offset="1.0000" stop-color="#feeadb"/></linearGradient></defs>
<rect x="516.6" y="14.6" width="14.40" height="287.20" fill="url(#cb)"/>
<g font-family="Liberation Sans, sans-serif" font-size="6.0" fill="#262626">
<line x1="531.0" y1="14.60" x2="533.8" y2="14.60" stroke="#222" stroke-width="0.75"/>
<text x="536.2" y="16.76">1.0</text>
<line x1="531.0" y1="49.00" x2="533.8" y2="49.00" stroke="#222" stroke-width="0.75"/>
<text x="536.2" y="51.16">0.8</text>
<line x1="531.0" y1="83.39" x2="533.8" y2="83.39" stroke="#222" stroke-width="0.75"/>
<text x="536.2" y="85.55">0.6</text>
<line x1="531.0" y1="117.79" x2="533.8" y2="117.79" stroke="#222" stroke-width="0.75"/>
<text x="536.2" y="119.95">0.4</text>
<line x1="531.0" y1="152.18" x2="533.8" y2="152.18" stroke="#222" stroke-width="0.75"/>
<text x="536.2" y="154.34">0.2</text>
<line x1="531.0" y1="186.58" x2="533.8" y2="186.58" stroke="#222" stroke-width="0.75"/>
<text x="536.2" y="188.74">0.0</text>
<line x1="531.0" y1="220.97" x2="533.8" y2="220.97" stroke="#222" stroke-width="0.75"/>
<text x="536.2" y="223.13">-0.2</text>
<line x1="531.0" y1="255.37" x2="533.8" y2="255.37" stroke="#222" stroke-width="0.75"/>
<text x="536.2" y="257.53">-0.4</text>
<line x1="531.0" y1="289.76" x2="533.8" y2="289.76" stroke="#222" stroke-width="0.75"/>
<text x="536.2" y="291.92">-0.6</text>
</g>
<line x1="4" y1="15.50" x2="147.1" y2="15.50" stroke="#2f62d8" stroke-width="1.25" stroke-dasharray="3 1.5"/>
<line x1="4" y1="87.50" x2="147.1" y2="87.50" stroke="#2f62d8" stroke-width="1.25" stroke-dasharray="3 1.5"/>
<line x1="4" y1="104.50" x2="147.1" y2="104.50" stroke="#2f62d8" stroke-width="1.25" stroke-dasharray="3 1.5"/>
<line x1="4" y1="176.50" x2="147.1" y2="176.50" stroke="#2f62d8" stroke-width="1.25" stroke-dasharray="3 1.5"/>
<line x1="4" y1="230.50" x2="147.1" y2="230.50" stroke="#2f62d8" stroke-width="1.25" stroke-dasharray="3 1.5"/>
<line x1="4" y1="302.50" x2="147.1" y2="302.50" stroke="#2f62d8" stroke-width="1.25" stroke-dasharray="3 1.5"/>
<g font-family="Liberation Sans, sans-serif" font-size="8.3" fill="#000" stroke="#000" stroke-width="0.3" text-anchor="middle">
<text x="44.0" y="49.3">SCWG reaction</text><text x="44.0" y="59.6">conditions</text>
<text x="35.0" y="139.2">Ultimate</text><text x="35.0" y="148.9">analysis</text>
<text x="35.2" y="201.8">Proximate</text><text x="35.2" y="212.0">analysis</text>
<text x="39.5" y="265.9">Individual gas</text><text x="39.5" y="276.3">yields</text>
</g>
</svg></body></html>
